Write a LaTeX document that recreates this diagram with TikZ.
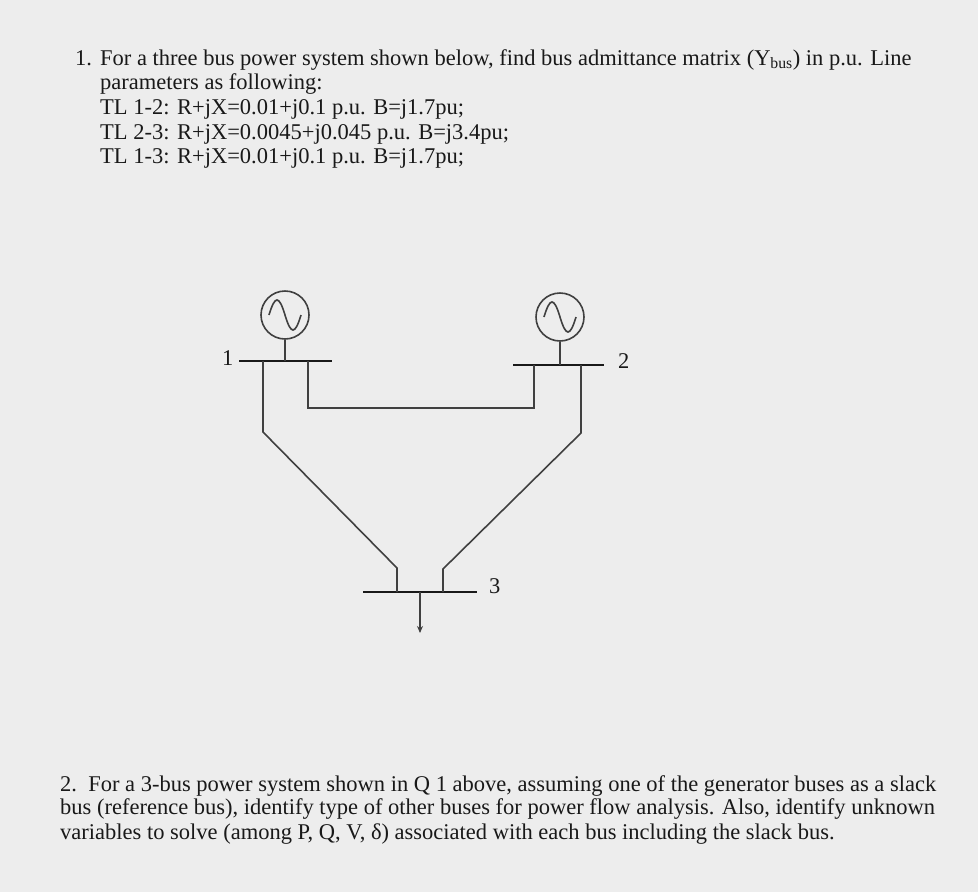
\documentclass[tikz,border=0pt]{standalone}
\usepackage{fontspec}
\setmainfont{Liberation Serif}
\usetikzlibrary{arrows.meta}
\begin{document}
\begin{tikzpicture}[x=1pt,y=-1pt,
  txt/.style={anchor=base west,inner sep=0pt,font=\fontsize{22.5}{26}\selectfont,text=black!90},
  bus/.style={line width=2.6pt,black!90},
  ln/.style={line width=1.6pt,black!75},
  gen/.style={circle,draw=black!75,line width=1.6pt,minimum size=48pt,inner sep=0pt}]
\fill[gray!14] (0,0) rectangle (978,892);
\useasboundingbox (0,0) rectangle (978,892);
\node[txt] (n1) at (75,65) {1.};
\node[txt] (t1) at (100,65) {For a three bus power system shown below, find bus admittance matrix (Y\textsubscript{bus}) in p.u. Line};
\node[txt] (t2) at (100,89) {parameters as following:};
\node[txt] (t3) at (100,114) {TL 1-2: R+jX=0.01+j0.1 p.u. B=j1.7pu;};
\node[txt] (t4) at (100,139) {TL 2-3: R+jX=0.0045+j0.045 p.u. B=j3.4pu;};
\node[txt] (t5) at (100,163) {TL 1-3: R+jX=0.01+j0.1 p.u. B=j1.7pu;};
\node[txt] (q1) at (60,791) {2.\ \ For a 3-bus power system shown in Q 1 above, assuming one of the generator buses as a slack};
\node[txt] (q2) at (60,814) {bus (reference bus), identify type of other buses for power flow analysis. Also, identify unknown};
\node[txt] (q3) at (60,839) {variables to solve (among P, Q, V, δ) associated with each bus including the slack bus.};
% generators
\node[gen] (g1) at (285,315) {};
\node[gen] (g2) at (560,317) {};
\foreach \g in {g1,g2}{
  \draw[ln] ([xshift=-16pt]\g.center) .. controls ++(6,-20) and ++(-6,-20) .. (\g.center) .. controls ++(6,20) and ++(-6,20) .. ([xshift=16pt]\g.center);}
% buses
\coordinate (b1w) at (239,361); \coordinate (b1e) at (332,361);
\coordinate (b2w) at (513,365); \coordinate (b2e) at (604,365);
\coordinate (b3w) at (363,592); \coordinate (b3e) at (477,592);
\draw[bus] (b1w) -- (b1e);
\draw[bus] (b2w) -- (b2e);
\draw[bus] (b3w) -- (b3e);
\node[txt] (l1) at (222,365) {1};
\node[txt] (l2) at (618,368) {2};
\node[txt] (l3) at (489,593) {3};
\draw[ln] (g1.south) -- (285,361);
\draw[ln] (g2.south) -- (560,365);
% lines
\draw[ln] (308,361) -- (308,408) -- (534,408) -- (534,365);
\draw[ln] (263,361) -- (263,432) -- (397,568) -- (397,592);
\draw[ln] (581,365) -- (581,433) -- (443,569) -- (443,592);
\draw[ln,-{Stealth[length=7pt,width=6pt]}] (420,592) -- (420,633);
\end{tikzpicture}
\end{document}
